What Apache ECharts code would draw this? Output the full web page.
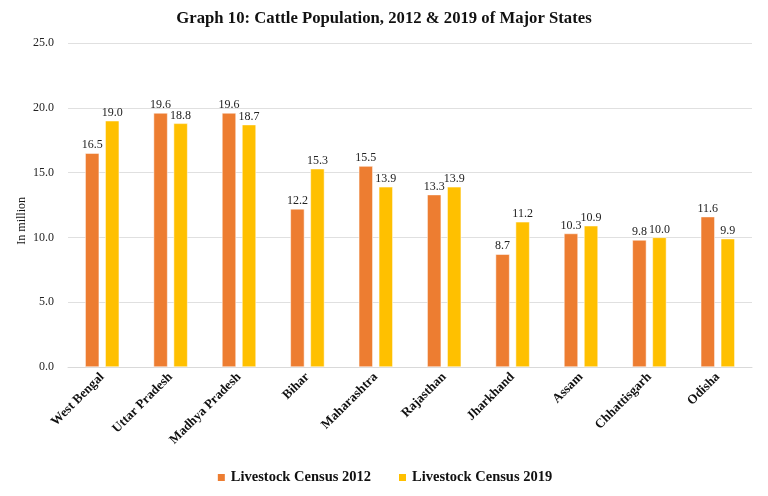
<!DOCTYPE html>
<html>
<head>
<meta charset="utf-8">
<script src="https://cdn.jsdelivr.net/npm/echarts@6/dist/echarts.min.js"></script>
<style>
  html, body { margin: 0; padding: 0; background: #fff; }
  #main { width: 768px; height: 496px; }
</style>
</head>
<body>
<div id="main"></div>
<script>
// data
var states = ['West Bengal', 'Uttar Pradesh', 'Madhya Pradesh', 'Bihar', 'Maharashtra',
  'Rajasthan', 'Jharkhand', 'Assam', 'Chhattisgarh', 'Odisha'];
var census2012 = [16.5, 19.6, 19.6, 12.2, 15.5, 13.3, 8.7, 10.3, 9.8, 11.6];
var census2019 = [19.0, 18.8, 18.7, 15.3, 13.9, 13.9, 11.2, 10.9, 10.0, 9.9];
var seriesNames = ['Livestock Census 2012', 'Livestock Census 2019'];

var serif = '"Liberation Serif", "DejaVu Serif", serif';
var chart = echarts.init(document.getElementById('main'));

function barSeries(name, data, color) {
  return {
    name: name,
    type: 'bar',
    data: data,
    barWidth: 14,
    barGap: '43%',
    itemStyle: { color: color, borderColor: '#fff', borderWidth: 0.5 },
    label: {
      show: true,
      position: 'top',
      distance: 2,
      color: '#222',
      fontFamily: serif,
      fontSize: 12,
      formatter: function (p) { return p.value.toFixed(1); }
    }
  };
}

var option = {
  animation: false,
  title: {
    text: 'Graph 10: Cattle Population, 2012 & 2019 of Major States',
    left: 'center',
    top: 5,
    textStyle: { fontFamily: serif, fontSize: 16.7, fontWeight: 'bold', color: '#111' }
  },
  legend: {
    bottom: 6,
    left: 'center',
    icon: 'rect',
    itemWidth: 9,
    itemHeight: 9,
    itemGap: 26,
    textStyle: { fontFamily: serif, fontSize: 14.5, fontWeight: 'bold', color: '#111' },
    data: seriesNames
  },
  // y axis title placed by hand, the axis name gets pushed off by the labels
  graphic: [{
    type: 'text',
    left: 16,
    top: 197,
    rotation: Math.PI / 2,
    style: { text: 'In million', font: '12px ' + serif, fill: '#111' }
  }],
  grid: { left: 68, right: 16, top: 43, bottom: 129 },
  xAxis: {
    type: 'category',
    data: states,
    axisTick: { show: false },
    axisLine: { lineStyle: { color: '#d9d9d9', width: 1 } },
    axisLabel: {
      rotate: 45,
      interval: 0,
      margin: 8,
      fontFamily: serif,
      fontSize: 13,
      fontWeight: 'bold',
      color: '#111'
    }
  },
  yAxis: {
    type: 'value',
    min: 0,
    max: 25,
    interval: 5,
    axisLine: { show: false },
    axisTick: { show: false },
    axisLabel: {
      fontFamily: serif,
      fontSize: 12,
      color: '#222',
      margin: 14,
      formatter: function (v) { return v.toFixed(1); }
    },
    splitLine: { lineStyle: { color: '#e0e0e0', width: 1 } }
  },
  series: [
    barSeries(seriesNames[0], census2012, '#ED7D31'),
    barSeries(seriesNames[1], census2019, '#FFC000')
  ]
};
chart.setOption(option);
</script>
</body>
</html>
